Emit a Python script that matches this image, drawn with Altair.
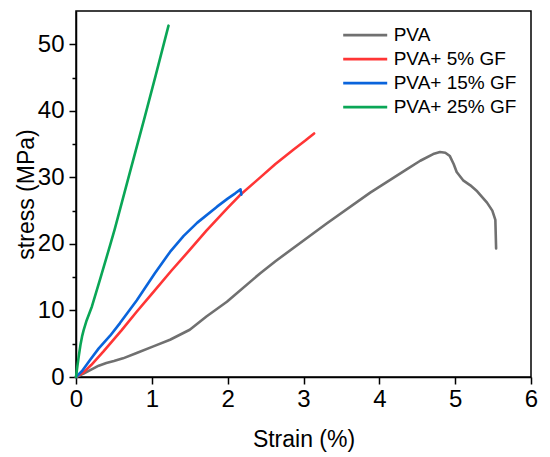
import altair as alt
import pandas as pd

series_names = ["PVA", "PVA+ 5% GF", "PVA+ 15% GF", "PVA+ 25% GF"]
series_colors = ["#707070", "#ff3535", "#0a64dc", "#0aa656"]

pva_strain = [0, 0.1, 0.2, 0.3, 0.4, 0.5, 0.62, 0.8, 1.02, 1.24, 1.5, 1.72, 1.99, 2.43, 2.63,
              3.31, 3.88, 4.36, 4.54, 4.71, 4.8, 4.87, 4.93, 4.98, 5.02, 5.11, 5.2, 5.29, 5.42,
              5.49, 5.53, 5.54]
pva_stress = [0, 0.5, 1.1, 1.7, 2.1, 2.4, 2.8, 3.6, 4.6, 5.6, 7.1, 9.1, 11.3, 15.6, 17.4,
              23.1, 27.7, 31.2, 32.5, 33.5, 33.8, 33.7, 33.2, 32.0, 30.8, 29.5, 28.8, 27.9, 26.2,
              25.0, 23.6, 19.3]

gf5_strain = [0, 0.1, 0.2, 0.36, 0.6, 0.8, 1.0, 1.26, 1.5, 1.72, 2.0, 2.16, 2.43, 2.63, 2.87, 3.02, 3.14]
gf5_stress = [0, 0.7, 1.8, 3.8, 7.0, 9.8, 12.5, 16.0, 19.1, 22.0, 25.4, 27.3, 30.0, 32.0, 34.2, 35.5, 36.6]

gf15_strain = [0, 0.08, 0.185, 0.3, 0.45, 0.58, 0.8, 1.04, 1.24, 1.42, 1.6, 1.86, 2.0, 2.1, 2.17, 2.18]
gf15_stress = [0, 0.9, 2.56, 4.3, 6.2, 8.1, 11.5, 15.6, 18.8, 21.2, 23.2, 25.6, 26.8, 27.6, 28.2, 27.4]

gf25_strain = [0, 0.02, 0.04, 0.06, 0.08, 0.1, 0.14, 0.21, 0.32, 0.45, 0.51, 0.7, 0.9, 1.05, 1.22]
gf25_stress = [0, 1.8, 3.4, 4.9, 6.1, 7.0, 8.5, 10.6, 14.8, 19.8, 22.2, 30.3, 38.8, 45.3, 52.8]

x_ticks = [0, 0.5, 1, 1.5, 2, 2.5, 3, 3.5, 4, 4.5, 5, 5.5, 6]
y_ticks = [0, 5, 10, 15, 20, 25, 30, 35, 40, 45, 50]

rows = []
for name, xs, ys in [
    (series_names[0], pva_strain, pva_stress),
    (series_names[1], gf5_strain, gf5_stress),
    (series_names[2], gf15_strain, gf15_stress),
    (series_names[3], gf25_strain, gf25_stress),
]:
    for i, (a, b) in enumerate(zip(xs, ys)):
        rows.append({"series": name, "strain": a, "stress": b, "idx": i})
df = pd.DataFrame(rows)

FONT = "Liberation Sans"
common_axis = dict(labelFont=FONT, labelFontSize=24, labelColor="black", labelFlush=False,
                   labelOverlap=False, titleFont=FONT, titleFontSize=23, titleColor="black",
                   titleFontWeight="normal", grid=False, domainColor="black", domainWidth=1.5,
                   tickColor="black", tickWidth=1.5, format="d")

chart = alt.Chart(df).mark_line(strokeWidth=2.6, strokeCap="round", strokeJoin="round").encode(
    x=alt.X("strain:Q", scale=alt.Scale(domain=[0, 6], nice=False, zero=False),
            axis=alt.Axis(title="Strain (%)", values=x_ticks,
                          labelExpr="datum.value % 1 ? '' : datum.label",
                          tickSize={"condition": {"test": "datum.value % 1 === 0", "value": 7}, "value": 4},
                          labelPadding=3, titleY=69, titleBaseline="alphabetic", **common_axis)),
    y=alt.Y("stress:Q", scale=alt.Scale(domain=[0, 55], nice=False),
            axis=alt.Axis(title="stress (MPa)", values=y_ticks,
                          labelExpr="datum.value % 10 ? '' : datum.label",
                          tickSize={"condition": {"test": "datum.value % 10 === 0", "value": 7}, "value": 4},
                          labelPadding=5, titleX=-43, titleBaseline="alphabetic", **common_axis)),
    color=alt.Color("series:N", scale=alt.Scale(domain=series_names, range=series_colors),
                    legend=alt.Legend(title=None, orient="none", legendX=266.7, legendY=14.6,
                                      symbolType="M-4,0H4", symbolSize=121, symbolStrokeWidth=2.6,
                                      symbolOffset=13,
                                      labelFontSize=19, labelFont=FONT, labelColor="black",
                                      labelOffset=19, rowPadding=4.0, padding=0)),
    order="idx:Q",
).properties(
    width=455, height=366,
    autosize=alt.AutoSizeParams(type="none"),
    padding={"left": 68, "top": 3, "right": 10, "bottom": 80},
).configure_view(
    stroke="black", strokeWidth=1.5
)

chart.save("out.html", embed_options={"renderer": "svg", "actions": False})
